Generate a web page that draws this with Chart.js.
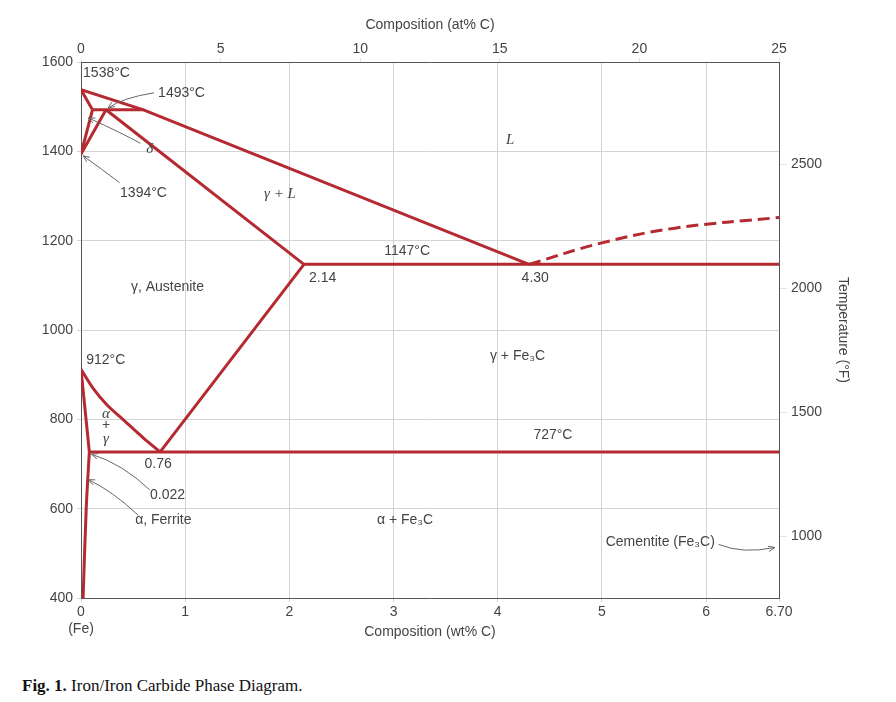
<!DOCTYPE html>
<html>
<head>
<meta charset="utf-8">
<script src="https://cdn.jsdelivr.net/npm/chart.js@4/dist/chart.umd.min.js"></script>
<style>
  body { margin: 0; background: #fff; }
  #wrap { position: relative; width: 896px; height: 660px; }
  #cap { position: absolute; left: 22px; top: 676px; font: 17px "Liberation Serif", "Times New Roman", serif; color: #111; }
</style>
</head>
<body>
<div id="wrap"><canvas id="c" width="896" height="660"></canvas></div>
<div id="cap"><b>Fig. 1.</b> Iron/Iron Carbide Phase Diagram.</div>
<script>
// tick labels
const wtTicks = [0, 1, 2, 3, 4, 5, 6, 6.7];
const atTicks = [0, 5, 10, 15, 20, 25];
const cTicks = [400, 600, 800, 1000, 1200, 1400, 1600];
const fTicks = [1000, 1500, 2000, 2500];

// phase boundaries, [wt% C, °C] pairs
const liquidus = [[0, 1538], [0.6, 1493], [4.30, 1147]];
const liquidusFe3C = [[4.30, 1147], [5.0, 1195], [5.7, 1228], [6.70, 1252]];
const deltaSolidus = [[0, 1538], [0.11, 1493]];
const peritectic = [[0.11, 1493], [0.6, 1493]];
const deltaSolvus = [[0, 1394], [0.11, 1493]];
const gammaDelta = [[0, 1394], [0.24, 1493]];
const gammaSolidus = [[0.24, 1493], [2.14, 1147]];
const eutectic = [[2.14, 1147], [6.70, 1147]];
const acm = [[2.14, 1147], [0.76, 727]];
const a3 = [[0, 912], [0.12, 868], [0.25, 832], [0.42, 796], [0.6, 758], [0.76, 727]];
const alphaGamma = [[0, 912], [0.08, 727]];
const alphaSolvus = [[0.08, 727], [0.05, 600], [0.02, 400]];
const eutectoid = [[0.08, 727], [6.70, 727]];

const red = '#b52a30';
const font = '"Liberation Sans", Arial, sans-serif';
const pts = a => a.map(p => ({ x: p[0], y: p[1] }));
const seg = (a, extra) => Object.assign({ type: 'line', data: pts(a), borderColor: red, borderWidth: 3, pointRadius: 0, tension: 0, fill: false }, extra || {});

// text labels [text, wt%, °C, align, italic]
const labels = [
  ['1538°C', 0.02, 1576, 'left', false],
  ['1493°C', 0.74, 1531, 'left', false],
  ['δ', 0.66, 1405, 'center', true],
  ['1394°C', 0.6, 1307, 'center', false],
  ['γ + L', 1.91, 1305, 'center', true],
  ['L', 4.12, 1425, 'center', true],
  ['1147°C', 3.13, 1177, 'center', false],
  ['2.14', 2.32, 1117, 'center', false],
  ['4.30', 4.36, 1117, 'center', false],
  ['γ, Austenite', 0.83, 1096, 'center', false],
  ['912°C', 0.05, 933, 'left', false],
  ['γ + Fe₃C', 4.19, 942, 'center', false],
  ['α', 0.24, 812, 'center', true],
  ['+', 0.24, 788, 'center', false],
  ['γ', 0.24, 756, 'center', true],
  ['727°C', 4.53, 765, 'center', false],
  ['0.76', 0.74, 700, 'center', false],
  ['0.022', 0.83, 631, 'center', false],
  ['α, Ferrite', 0.79, 575, 'center', false],
  ['α + Fe₃C', 3.11, 575, 'center', false],
  ['Cementite (Fe₃C)', 5.56, 525, 'center', false]
];
// leader arrows: from [wt, °C], control, to
const leaders = [
  [[0.7, 1531], [0.4, 1520], [0.26, 1497]],
  [[0.57, 1418], [0.4, 1440], [0.07, 1475]],
  [[0.37, 1330], [0.2, 1360], [0.02, 1390]],
  [[0.66, 642], [0.4, 700], [0.1, 722]],
  [[0.55, 585], [0.3, 640], [0.07, 665]],
  [[6.12, 520], [6.35, 498], [6.66, 513]]
];

const annot = {
  id: 'annot',
  afterDatasetsDraw(chart) {
    const { ctx, scales: { x, y } } = chart;
    ctx.save();
    ctx.fillStyle = '#444';
    ctx.textBaseline = 'middle';
    labels.forEach(l => {
      ctx.font = (l[4] ? 'italic 15px "Liberation Serif", serif' : '14px ' + font);
      ctx.textAlign = l[3];
      ctx.fillText(l[0], x.getPixelForValue(l[1]), y.getPixelForValue(l[2]));
    });
    ctx.strokeStyle = '#666';
    ctx.lineWidth = 1;
    leaders.forEach(a => {
      const p = a.map(q => [x.getPixelForValue(q[0]), y.getPixelForValue(q[1])]);
      ctx.beginPath();
      ctx.moveTo(p[0][0], p[0][1]);
      ctx.quadraticCurveTo(p[1][0], p[1][1], p[2][0], p[2][1]);
      ctx.stroke();
      const ang = Math.atan2(p[2][1] - p[1][1], p[2][0] - p[1][0]);
      ctx.beginPath();
      ctx.moveTo(p[2][0] - 7 * Math.cos(ang - 0.4), p[2][1] - 7 * Math.sin(ang - 0.4));
      ctx.lineTo(p[2][0], p[2][1]);
      ctx.lineTo(p[2][0] - 7 * Math.cos(ang + 0.4), p[2][1] - 7 * Math.sin(ang + 0.4));
      ctx.stroke();
    });
    ctx.restore();
  }
};

Chart.defaults.font.family = font;
Chart.defaults.font.size = 14;
Chart.defaults.color = '#444';

const fixed = list => s => { s.ticks = list.map(v => ({ value: v })); };

new Chart(document.getElementById('c'), {
  type: 'scatter',
  data: {
    datasets: [
      seg(liquidus), seg(liquidusFe3C, { borderDash: [12, 6], tension: 0.4 }),
      seg(deltaSolidus), seg(peritectic), seg(deltaSolvus), seg(gammaDelta),
      seg(gammaSolidus), seg(eutectic), seg(acm), seg(a3, { tension: 0.3 }),
      seg(alphaGamma), seg(alphaSolvus, { tension: 0.3 }), seg(eutectoid)
    ]
  },
  options: {
    responsive: false,
    animation: false,
    layout: { padding: 0 },
    plugins: { legend: { display: false }, tooltip: { enabled: false } },
    scales: {
      x: {
        type: 'linear', position: 'bottom', min: 0, max: 6.7,
        afterBuildTicks: fixed(wtTicks),
        afterFit: s => { s.height = 62; },
        ticks: { callback: v => v === 0 ? ['0', '(Fe)'] : (v === 6.7 ? '6.70' : String(v)), maxRotation: 0, autoSkip: false, padding: 2 },
        grid: { color: '#d4d4d4', tickLength: 4 },
        border: { color: '#555' },
        title: { display: true, text: 'Composition (wt% C)', padding: 19 }
      },
      xTop: {
        type: 'linear', position: 'top', min: 0, max: 25,
        afterBuildTicks: fixed(atTicks),
        afterFit: s => { s.height = 62; },
        ticks: { callback: v => String(v), maxRotation: 0, autoSkip: false, padding: 0 },
        grid: { drawOnChartArea: false, tickLength: 4 },
        border: { color: '#555' },
        title: { display: true, text: 'Composition (at% C)', padding: 17 }
      },
      y: {
        type: 'linear', min: 400, max: 1600,
        afterBuildTicks: fixed(cTicks),
        afterFit: s => { s.width = 81; },
        ticks: { callback: v => String(v), autoSkip: false, padding: 4 },
        grid: { color: '#d4d4d4', tickLength: 4 },
        border: { color: '#555' }
      },
      yR: {
        type: 'linear', position: 'right', min: 752, max: 2912,
        afterBuildTicks: fixed(fTicks),
        afterFit: s => { s.width = 117; },
        ticks: { callback: v => String(v), autoSkip: false, padding: 4 },
        grid: { drawOnChartArea: false, tickLength: 8 },
        border: { color: '#555' },
        title: { display: true, text: 'Temperature (°F)', padding: 45 }
      }
    }
  },
  plugins: [annot]
});
</script>
</body>
</html>
